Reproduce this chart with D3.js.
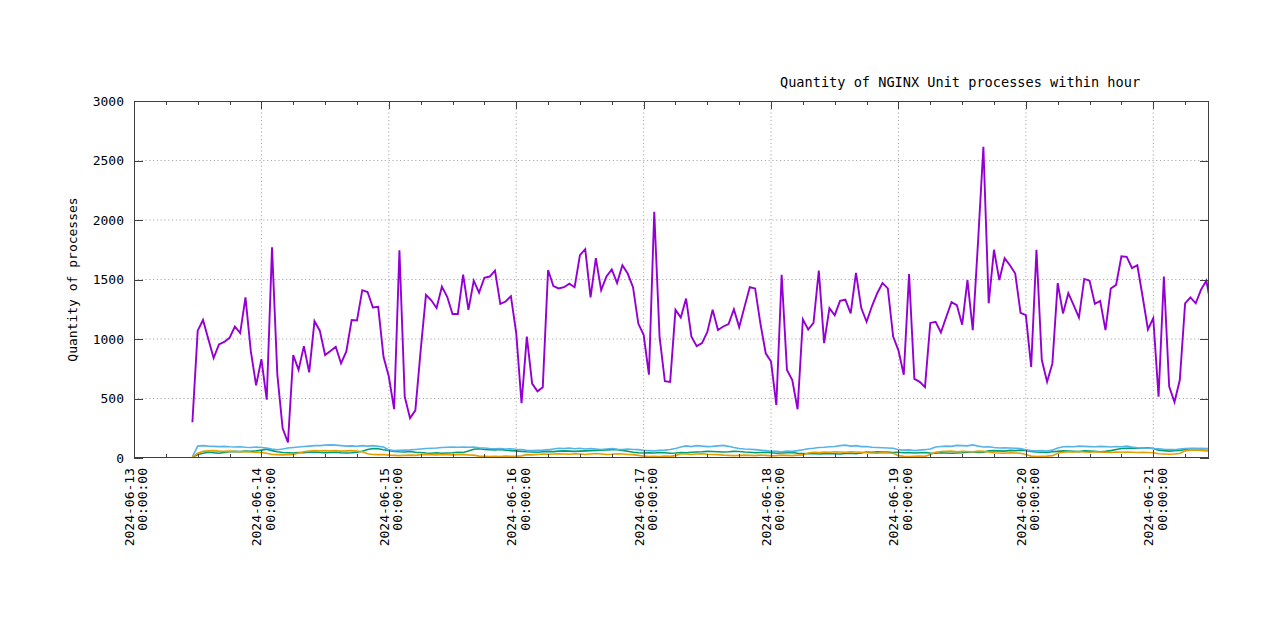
<!DOCTYPE html>
<html>
<head>
<meta charset="utf-8">
<script src="https://cdn.jsdelivr.net/npm/d3@7/dist/d3.min.js"></script>
<style>
html,body{margin:0;padding:0;background:#fff;}
svg{display:block;}
text{font-family:"DejaVu Sans Mono",monospace;fill:#000;}
</style>
</head>
<body>
<svg id="chart" width="1280" height="640"></svg>
<script>
const title = "Quantity of NGINX Unit processes within hour";
const yLabel = "Quantity of processes";
const domainStart = "2024-06-13T00:00:00Z";
const domainEnd = "2024-06-21T10:30:00Z";
const firstSample = "2024-06-13T11:00:00Z";
const yTicks = [0, 500, 1000, 1500, 2000, 2500, 3000];

const seriesPurple = [300,1070,1160,1000,840,955,975,1010,1105,1050,
1350,900,610,830,490,1770,700,250,130,865,
740,940,720,1150,1070,865,900,935,795,895,
1160,1155,1410,1395,1265,1270,850,685,410,1745,
515,335,400,905,1370,1325,1260,1440,1355,1210,
1210,1540,1245,1490,1390,1515,1525,1575,1295,1315,
1360,1050,460,1020,625,560,595,1580,1445,1425,
1435,1465,1435,1705,1755,1350,1680,1410,1525,1585,
1470,1620,1550,1435,1130,1035,700,2070,1020,645,
640,1245,1180,1340,1020,940,965,1060,1245,1075,
1105,1125,1250,1100,1270,1435,1425,1130,880,810,
445,1540,740,655,410,1165,1080,1135,1575,965,
1260,1200,1320,1330,1215,1555,1260,1145,1275,1385,
1470,1425,1020,905,700,1545,665,640,595,1135,
1145,1055,1185,1310,1285,1120,1495,1075,1820,2615,
1300,1750,1495,1680,1620,1550,1220,1200,765,1750,
825,640,795,1470,1215,1385,1285,1180,1505,1490,
1295,1320,1075,1425,1455,1695,1690,1595,1620,1355,
1080,1175,515,1525,600,470,655,1300,1350,1300,
1415,1490,1250];

const seriesGreen = [5,30,40,48,44,40,46,52,56,54,
58,56,60,66,74,62,52,46,44,42,
46,44,48,50,46,44,46,48,44,42,
44,48,56,72,80,78,70,64,56,52,
50,54,48,46,42,40,44,40,42,44,
48,46,58,74,78,72,70,68,72,66,
62,60,56,52,50,48,52,56,54,58,
60,58,56,58,60,62,64,66,68,70,
70,64,56,48,44,42,44,42,46,44,
40,42,46,44,48,50,52,56,54,52,
50,52,56,54,50,48,44,46,48,44,
40,42,44,46,40,38,36,38,34,36,
38,36,34,38,40,36,42,50,48,52,
50,50,46,48,44,46,42,44,46,42,
40,44,42,40,42,44,48,52,46,48,
60,62,60,58,64,62,66,64,56,50,
48,46,52,56,60,58,56,54,60,58,
56,52,56,62,72,80,82,84,82,84,
86,80,66,62,58,62,64,72,78,80,
76,78,80];

const seriesBlue = [10,100,104,100,98,96,98,94,92,94,
90,88,92,88,84,76,70,76,84,88,
92,96,100,104,104,108,110,108,104,100,
102,98,104,100,104,98,92,68,62,64,
66,68,72,76,80,82,84,88,90,92,
90,92,90,92,86,84,80,78,80,76,
78,74,72,64,62,64,66,70,76,82,
80,84,78,82,76,80,76,72,76,80,
74,72,76,72,70,64,62,60,64,66,
72,80,92,102,96,104,100,96,98,102,
106,98,88,80,76,74,70,66,62,56,
56,52,58,56,62,70,78,82,88,90,
94,96,104,108,100,104,96,96,90,88,
86,84,82,70,66,68,62,66,70,76,
92,96,100,98,106,104,102,110,100,92,
94,88,84,86,84,82,80,70,62,60,
62,58,66,84,94,96,94,100,98,96,
94,98,96,92,96,94,100,92,86,84,
82,80,78,74,72,70,76,80,82,80,
82,80,80];

const seriesOrange = [5,40,56,60,62,58,56,58,54,52,
54,50,48,46,40,30,28,26,28,30,
42,52,58,62,60,62,60,62,58,60,
62,58,52,36,30,28,30,24,22,20,
22,24,22,28,30,28,26,30,28,26,
28,30,26,24,16,14,12,14,12,16,
14,14,18,28,26,30,34,32,34,36,
34,32,36,34,30,34,38,34,30,32,
36,34,30,28,22,16,12,14,12,16,
14,20,36,34,30,34,36,32,30,28,
24,22,20,22,24,22,20,24,22,18,
20,24,22,20,24,26,42,48,46,50,
48,52,50,48,52,50,48,44,42,40,
44,42,40,20,14,12,14,16,14,30,
48,54,56,58,52,56,54,52,58,56,
50,44,42,40,44,42,40,30,16,12,
14,16,20,40,48,52,50,54,50,48,
52,50,48,46,50,48,50,48,46,48,
46,44,36,34,32,34,38,60,66,68,
64,60,62];

const seriesList = [
  {name:"purple", values: seriesPurple, color:"#9400D3", width:1.9},
  {name:"green", values: seriesGreen, color:"#009E73", width:1.6},
  {name:"blue", values: seriesBlue, color:"#56B4E9", width:1.6},
  {name:"orange", values: seriesOrange, color:"#E69F00", width:1.6}
];

const margin = {left:134, right:1209, top:101, bottom:458};
const svg = d3.select("#chart");

const x = d3.scaleUtc()
  .domain([new Date(domainStart), new Date(domainEnd)])
  .range([margin.left, margin.right]);
const y = d3.scaleLinear().domain([0, 3000]).range([margin.bottom, margin.top]);

const t0 = new Date(firstSample);
const timeOf = i => d3.utcHour.offset(t0, i);

// grid
const gridColor = "#a8a8a8";
const majorDays = d3.utcDay.range(d3.utcDay.offset(new Date(domainStart), 1), new Date(domainEnd));
svg.append("g").selectAll("line").data(majorDays).join("line")
  .attr("x1", d => x(d)).attr("x2", d => x(d))
  .attr("y1", margin.top).attr("y2", margin.bottom)
  .attr("stroke", gridColor).attr("stroke-width", 1)
  .attr("stroke-dasharray", "1.2,2.6");
svg.append("g").selectAll("line").data(yTicks.filter(v => v > 0 && v < 3000)).join("line")
  .attr("x1", margin.left).attr("x2", margin.right)
  .attr("y1", d => y(d)).attr("y2", d => y(d))
  .attr("stroke", gridColor).attr("stroke-width", 1)
  .attr("stroke-dasharray", "1.2,2.6");

// clip
svg.append("clipPath").attr("id", "clip").append("rect")
  .attr("x", margin.left).attr("y", margin.top)
  .attr("width", margin.right - margin.left).attr("height", margin.bottom - margin.top);

const line = d3.line().x((d, i) => x(timeOf(i))).y(d => y(d));
const plotG = svg.append("g").attr("clip-path", "url(#clip)");
seriesList.forEach(s => {
  plotG.append("path").datum(s.values)
    .attr("d", line)
    .attr("fill", "none")
    .attr("stroke", s.color)
    .attr("stroke-width", s.width)
    .attr("stroke-linejoin", "miter");
});

// frame
const frameColor = "#404040";
svg.append("rect")
  .attr("x", margin.left + 0.5).attr("y", margin.top + 0.5)
  .attr("width", margin.right - margin.left - 1).attr("height", margin.bottom - margin.top - 1)
  .attr("fill", "none").attr("stroke", frameColor).attr("stroke-width", 1);

// y ticks (mirrored)
const tickG = svg.append("g").attr("stroke", frameColor).attr("stroke-width", 1);
yTicks.forEach(v => {
  const yy = Math.round(y(v)) + 0.5;
  tickG.append("line").attr("x1", margin.left).attr("x2", margin.left + 9).attr("y1", yy).attr("y2", yy);
  tickG.append("line").attr("x1", margin.right).attr("x2", margin.right - 9).attr("y1", yy).attr("y2", yy);
});
// x ticks: minor every 6h, major daily
const minorTicks = d3.utcHour.every(6).range(new Date(domainStart), new Date(domainEnd));
minorTicks.forEach(d => {
  const isMajor = d.getUTCHours() === 0;
  const len = isMajor ? 8 : 4;
  const xx = Math.round(x(d)) + 0.5;
  tickG.append("line").attr("x1", xx).attr("x2", xx).attr("y1", margin.bottom).attr("y2", margin.bottom - len);
  tickG.append("line").attr("x1", xx).attr("x2", xx).attr("y1", margin.top).attr("y2", margin.top + len);
});

// y tick labels
svg.append("g").selectAll("text").data(yTicks).join("text")
  .attr("x", 124).attr("y", d => y(d) + 4.5)
  .attr("text-anchor", "end").attr("font-size", 13)
  .text(d => d);

// x tick labels (rotated, two lines)
const fmtDate = d3.utcFormat("%Y-%m-%d");
const fmtTime = d3.utcFormat("%H:%M:%S");
const dayTicks = d3.utcDay.range(new Date(domainStart), new Date(domainEnd));
dayTicks.forEach(d => {
  const g = svg.append("g").attr("transform", `translate(${x(d)},468) rotate(-90)`);
  g.append("text").attr("x", 0).attr("y", 0).attr("text-anchor", "end").attr("font-size", 13).text(fmtDate(d));
  g.append("text").attr("x", 0).attr("y", 13.3).attr("text-anchor", "end").attr("font-size", 13).text(fmtTime(d));
});

// y label
svg.append("text")
  .attr("transform", `translate(77,${(margin.top + margin.bottom) / 2}) rotate(-90)`)
  .attr("text-anchor", "middle").attr("font-size", 13)
  .text(yLabel);

// title
svg.append("text").attr("x", 780).attr("y", 87)
  .attr("font-size", 13.6).text(title);
</script>
</body>
</html>
